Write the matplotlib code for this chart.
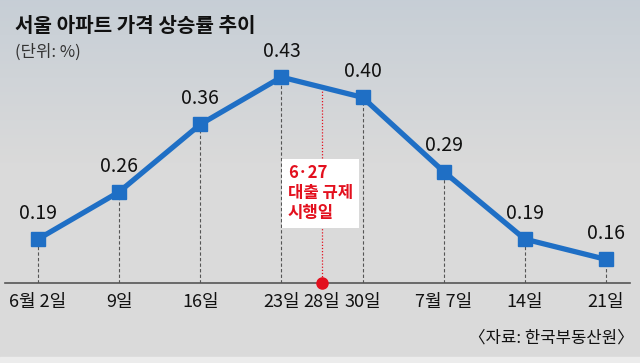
import matplotlib
matplotlib.use("Agg")
import matplotlib.pyplot as plt
import numpy as np

plt.rcParams["font.family"] = ["Noto Sans CJK KR", "DejaVu Sans"]

# data
weeks = ["6월 2일", "9일", "16일", "23일", "30일", "7월 7일", "14일", "21일"]
rates = [0.19, 0.26, 0.36, 0.43, 0.40, 0.29, 0.19, 0.16]
event_label = "28일"
event_pos = 3.5  # between 23일 and 30일
event_text = "6·27\n대출 규제\n시행일"

title = "서울 아파트 가격 상승률 추이"
unit = "(단위: %)"
source = "〈자료: 한국부동산원〉"

blue = "#1f6fc5"
red = "#e3101e"
bg = "#dadada"

fig = plt.figure(figsize=(6.4, 3.63), dpi=100)
fig.patch.set_facecolor(bg)

# soft photo-like backdrop at the top
back = fig.add_axes([0, 0, 1, 1], zorder=-10)
back.axis("off")
top_col = np.array([0.78, 0.81, 0.84])
bot_col = np.array([0.855, 0.855, 0.855])
t = np.clip(np.linspace(0, 1, 363) / 0.45, 0, 1)[:, None]
grad = top_col * (1 - t) + bot_col * t
back.imshow(grad[:, None, :].repeat(640, axis=1), aspect="auto",
            extent=[0, 1, 0, 1], origin="upper")
back.axhspan(0, 6 / 363, color="#ececec")

ax = fig.add_axes([5 / 640, 80 / 363, 625 / 640, 243 / 363])
ax.set_facecolor("none")

x = list(range(len(weeks)))
y_min = 0.125
ax.set_xlim(-0.407, 7.296)
ax.set_ylim(y_min, 0.485)

# dashed drop lines
for xi, yi in zip(x, rates):
    ax.plot([xi, xi], [y_min, yi], color="#555555", linestyle=(0, (3, 2)),
            linewidth=0.8, zorder=1)

# event marker
ax.plot([event_pos, event_pos], [y_min, 0.418], color=red,
        linestyle=(0, (1, 1.5)), linewidth=0.9, zorder=1)
ax.plot([event_pos], [y_min], "o", color=red, markersize=8,
        clip_on=False, zorder=5)
ax.text(event_pos - 0.42, 0.258, event_text, color=red, fontsize=12,
        fontweight="bold", ha="left", va="center", linespacing=1.15,
        bbox=dict(facecolor="white", edgecolor="none", pad=4), zorder=3)

# main line
ax.plot(x, rates, color=blue, linewidth=3.8, marker="s", markersize=10.5,
        zorder=4)

for xi, yi in zip(x, rates):
    ax.annotate(f"{yi:.2f}", (xi, yi), xytext=(0, 11),
                textcoords="offset points", ha="center", va="bottom",
                fontsize=14, color="#111111")

# axis
for side in ["top", "right", "left"]:
    ax.spines[side].set_visible(False)
ax.spines["bottom"].set_color("#555555")
ax.spines["bottom"].set_linewidth(1.2)
ax.set_yticks([])

tick_pos = x[:4] + [event_pos] + x[4:]
tick_lab = weeks[:4] + [event_label] + weeks[4:]
ax.set_xticks(tick_pos)
ax.set_xticklabels(tick_lab, fontsize=13, color="#111111")
ax.tick_params(axis="x", length=0, pad=7)

fig.text(15 / 640, 1 - 25 / 363, title, fontsize=14.5, fontweight="bold",
         color="#111111", ha="left", va="center")
fig.text(15 / 640, 1 - 52 / 363, unit, fontsize=12, color="#333333",
         ha="left", va="center")
fig.text(634 / 640, 1 - 338 / 363, source, fontsize=12, color="#111111",
         ha="right", va="center")

fig.savefig("out.png", dpi=100, facecolor=bg)
